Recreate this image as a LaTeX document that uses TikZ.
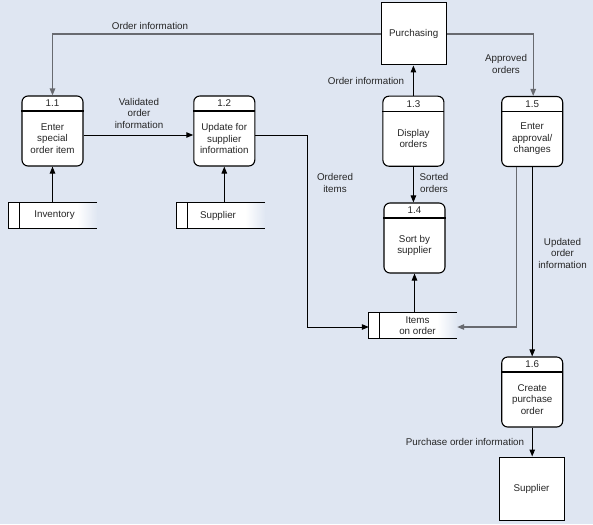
\documentclass[tikz,border=0pt]{standalone}
\usepackage{fontspec}
\setmainfont{Liberation Sans}
\usetikzlibrary{arrows.meta}
\definecolor{bg}{HTML}{DFE6F2}
\definecolor{gl}{HTML}{686A70}
\tikzset{
  lbl/.style={font=\fontsize{9.8}{11.5}\selectfont, align=center, inner sep=0pt, text=black!85},
  procbox/.style={draw=black, line width=1.1pt, fill=white, rounded corners=6pt, minimum width=61pt, minimum height=70pt, inner sep=0pt},
  extbox/.style={draw=black, line width=1pt, fill=white, minimum width=65pt, minimum height=62pt, inner sep=0pt},
  storebox/.style={minimum width=88pt, minimum height=25pt, inner sep=0pt},
  flow/.style={line width=1pt, -{Triangle[length=7pt,width=5.5pt]}},
  grayflow/.style={flow, line width=1.25pt, draw=gl},
}
\newcommand\proc[5]{%
  \node[procbox] (#1) at (#2,#3) {};
  \draw[line width=1.1pt] ([yshift=-15.5pt]#1.north west) -- ([yshift=-15.5pt]#1.north east);
  \node[lbl] (#1n) at ([yshift=-8pt]#1.north) {#4};
  \node[lbl] (#1t) at ([yshift=-7.5pt]#1.center) {#5};}
\newcommand\dstore[5]{%
  \node[storebox] (#1) at (#2,#3) {};
  \fill[white] (#1.north west) rectangle ([xshift=-20pt]#1.south east);
  \shade[left color=white, right color=bg] ([xshift=-20pt]#1.north east) rectangle (#1.south east);
  \draw[line width=1.1pt] (#1.north east) -- (#1.north west) -- (#1.south west) -- (#1.south east);
  \draw[line width=1.1pt] ([xshift=11pt]#1.north west) -- ([xshift=11pt]#1.south west);
  \node[lbl] (#1t) at ([xshift=#4]#1.center) {#5};}
\begin{document}
\begin{tikzpicture}[x=1pt, y=-1pt]
\fill[bg] (0,0) rectangle (593,524);
\useasboundingbox (0,0) rectangle (593,524);

% external entities
\node[extbox] (pur) at (413.7,34) {};
\node[lbl] (purt) at (pur.center) {Purchasing};
\node[extbox, minimum height=63pt] (sup) at (531.5,488.5) {};
\node[lbl] (supt) at (sup.center) {Supplier};

% processes
\proc{p11}{52.5}{131}{1.1}{Enter\\special\\order item}
\proc{p12}{224.3}{131}{1.2}{Update for\\supplier\\information}
\proc{p13}{413.4}{131.2}{1.3}{Display\\orders}
\proc{p14}{414.5}{238}{1.4}{Sort by\\supplier}
\proc{p15}{532.2}{131.5}{1.5}{Enter\\approval/\\changes}
\proc{p16}{532.2}{392}{1.6}{Create\\purchase\\order}

% data stores
\dstore{inv}{53}{215.5}{1.5pt}{Inventory}
\dstore{sst}{221}{215.5}{-3pt}{Supplier}
\dstore{ito}{413}{325.5}{4.5pt}{Items\\on order}

\coordinate (c1) at (307,135);

% flows
\draw[grayflow] (pur.west) -| (p11.north);
\draw[grayflow] (pur.east) -| ([xshift=1pt]p15.north);
\draw[flow] ([yshift=-4pt]p11.east) -- ([yshift=-4pt]p12.west);
\draw[flow] (inv.north -| p11.south) -- (p11.south);
\draw[flow] (sst.north -| p12.south) -- (p12.south);
\draw[flow] ([yshift=-4pt]p12.east) -- (c1) |- ([yshift=-1.5pt]ito.west);
\draw[flow] (p13.north) -- (p13.north |- pur.south);
\draw[flow] (p13.south) -- (p13.south |- p14.north);
\draw[flow] (ito.north -| p14.south) -- (p14.south);
\draw[grayflow] ([xshift=-16pt]p15.south) |- ([yshift=-1.5pt]ito.east);
\draw[flow] (p15.south) -- (p16.north);
\draw[flow] (p16.south) -- (p16.south |- sup.north);

% flow labels
\node[lbl] (l1) at (150,26) {Order information};
\node[lbl] (l2) at (139,113) {Validated\\order\\information};
\node[lbl] (l3) at (335,183) {Ordered\\items};
\node[lbl] (l4) at (366,81) {Order information};
\node[lbl] (l5) at (506,64) {Approved\\orders};
\node[lbl] (l6) at (434,183) {Sorted\\orders};
\node[lbl] (l7) at (562.5,253) {Updated\\order\\information};
\node[lbl] (l8) at (465,442) {Purchase order information};
\end{tikzpicture}
\end{document}
